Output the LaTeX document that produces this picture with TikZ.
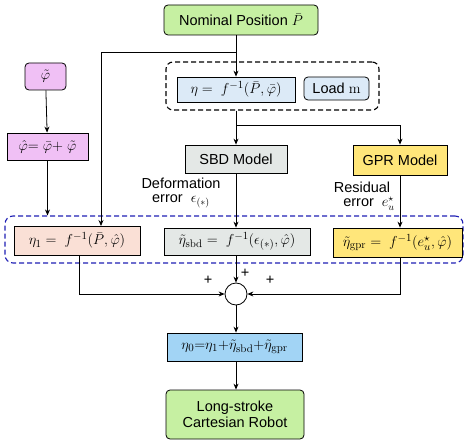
\documentclass[tikz,border=0pt]{standalone}
\usepackage{amsmath}
\usepackage[no-math]{fontspec}
\setmainfont{Liberation Sans}
\usepackage{xcolor}
\usetikzlibrary{arrows.meta, positioning, calc}

\definecolor{nomgreen}{RGB}{198,240,162}
\definecolor{phipink}{RGB}{240,192,245}
\definecolor{salmon}{RGB}{250,224,214}
\definecolor{sbdgray}{RGB}{228,232,230}
\definecolor{gpryellow}{RGB}{255,230,122}
\definecolor{lightblue}{RGB}{220,234,247}
\definecolor{etablue}{RGB}{162,212,245}
\definecolor{dashblue}{RGB}{30,30,180}

\begin{document}
\begin{tikzpicture}[x=1pt, y=-1pt, font=\fontsize{14.5}{16.5}\selectfont,
    box/.style={draw, thick, inner sep=0pt, align=center},
    rbox/.style={box, rounded corners=4pt},
    mbox/.style={box, font=\fontsize{15}{17}\selectfont},
    grpbox/.style={draw, line width=1.1pt, dash pattern=on 5pt off 3pt},
    arr/.style={-{Stealth[length=6pt, width=5pt]}, thick},
    line/.style={thick}]
  \useasboundingbox (0,0) rectangle (474,444);

  % top: nominal position and first inverse model
  \node[rbox, fill=nomgreen, minimum width=154, minimum height=30] (nom) at (241,20) {Nominal Position $\bar{P}$};
  \node[mbox, fill=lightblue, minimum width=118, minimum height=25] (eta) at (236,89.5) {$\eta =\; f^{-1}(\bar{P},\bar{\varphi})$};
  \node[rbox, fill=lightblue, minimum width=65, minimum height=23] (load) at (336.5,88.5) {Load $\mathrm{m}$};
  \node[grpbox, rounded corners=7pt, minimum width=213, minimum height=48] (grp) at (272.5,86) {};

  % models
  \node[box, fill=sbdgray, minimum width=102, minimum height=28] (sbd) at (236,159) {SBD Model};
  \node[box, fill=gpryellow, minimum width=94, minimum height=30] (gpr) at (400,160) {GPR Model};

  % angle correction
  \node[rbox, fill=phipink, minimum width=41, minimum height=27] (phit) at (45.5,76.5) {$\tilde{\varphi}$};
  \node[box, fill=phipink, minimum width=81, minimum height=27] (phih) at (47.5,146.5) {$\hat{\varphi}{=}\;\bar{\varphi}{+}\;\tilde{\varphi}$};

  % second row of inverse models
  \node[grpbox, draw=dashblue, rounded corners=8pt, minimum width=458, minimum height=47] (row) at (234,239.5) {};
  \node[mbox, fill=salmon, minimum width=126, minimum height=29] (eta1) at (77,240.5) {$\eta_1 =\; f^{-1}(\bar{P},\hat{\varphi})$};
  \node[mbox, fill=sbdgray, minimum width=146, minimum height=27] (etas) at (237,241.5) {$\tilde{\eta}_{\mathrm{sbd}} =\; f^{-1}(\epsilon_{(*)},\hat{\varphi})$};
  \node[mbox, fill=gpryellow, minimum width=129, minimum height=29] (etag) at (397.5,242.5) {$\tilde{\eta}_{\mathrm{gpr}} =\; f^{-1}(e_u^{\star},\hat{\varphi})$};

  % error labels
  \node[align=center] (deflab) at (181,193) {Deformation\\[-2pt]error\ \ $\epsilon_{(*)}$};
  \node[align=center] (reslab) at (362,196) {Residual\\[-2pt]\hspace*{14pt}error\ \ $e_u^{\star}$};

  % sum and output
  \node[draw, thick, circle, fill=white, minimum size=22, inner sep=0pt] (sum) at (236,294) {};
  \node[mbox, fill=etablue, minimum width=135, minimum height=28] (eta0) at (234.5,347) {$\eta_0{=}\eta_1{+}\tilde{\eta}_{\mathrm{sbd}}{+}\tilde{\eta}_{\mathrm{gpr}}$};
  \node[rbox, fill=nomgreen, minimum width=138, minimum height=49] (robot) at (235,414.5) {Long-stroke\\Cartesian Robot};

  \node (p1) at (208,280) {+};
  \node (p2) at (245,273) {+};
  \node (p3) at (270,280) {+};

  % junctions
  \coordinate (j1) at (236,52);
  \coordinate (j2) at (236,125);

  % connectors
  \draw[line] (nom.south -| j1) -- (j1);
  \draw[arr] (j1) -- (eta.north);
  \draw[arr] (j1) -| (101,226) coordinate (e1in);
  \draw[line] (grp.south -| j2) -- (j2);
  \draw[arr] (j2) -- (sbd.north);
  \draw[arr] (j2) -| (gpr.north);
  \draw[arr] (phit) -- (phih);
  \draw[arr] (phih.south) -- (phih.south |- row.north);
  \draw[arr] (sbd) -- (sbd.south |- etas.north);
  \draw[arr] (gpr) -- (gpr.south |- etag.north);
  \draw[arr] (etas.south -| sum) -- (sum.north);
  \draw[arr] (eta1.south -| 79,0) |- (sum.west);
  \draw[arr] (etag.south -| gpr) |- (sum.east);
  \draw[arr] (sum) -- (eta0.north -| sum);
  \draw[arr] (eta0.south -| sum) -- (robot.north -| sum);
\end{tikzpicture}
\end{document}
